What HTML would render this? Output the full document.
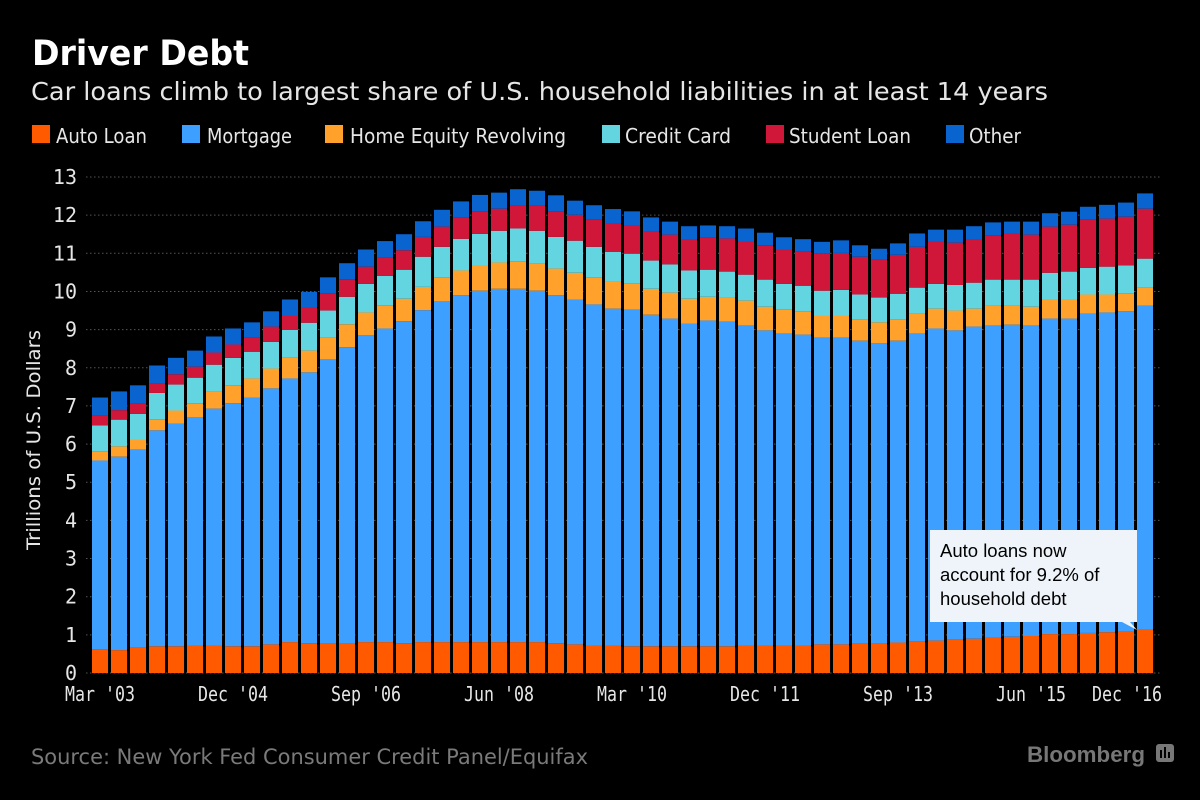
<!DOCTYPE html>
<html><head><meta charset="utf-8"><style>
html,body{margin:0;padding:0;background:#000;}
svg{display:block;}
</style></head><body>
<svg id="chart" width="1200" height="800" viewBox="0 0 1200 800" xmlns="http://www.w3.org/2000/svg" font-family="'DejaVu Sans', 'Liberation Sans', sans-serif">
<rect x="0" y="0" width="1200" height="800" fill="#000"/>
<text x="32" y="65" fill="#fff" font-size="35" font-weight="bold" textLength="217" lengthAdjust="spacingAndGlyphs">Driver Debt</text>
<text x="31" y="100" fill="#e6e6e6" font-size="25" textLength="1017" lengthAdjust="spacingAndGlyphs">Car loans climb to largest share of U.S. household liabilities in at least 14 years</text>
<g id="legend"></g>
<g id="grid"></g>
<g id="yticks"></g>
<text transform="translate(40,440) rotate(-90)" text-anchor="middle" fill="#e6e6e6" font-size="19" textLength="220" lengthAdjust="spacingAndGlyphs">Trillions of U.S. Dollars</text>
<g id="bars"></g>
<g id="xticks"></g>
<g>
<path d="M930,530 H1137 V622 H1130 L1137,630 L1122,622 H930 Z" fill="#eef4fa"/>
<text font-family="'Liberation Sans', sans-serif" font-size="18.5" fill="#000"><tspan x="940" y="557">Auto loans now</tspan><tspan x="940" y="581">account for 9.2% of</tspan><tspan x="940" y="605">household debt</tspan></text>
</g>
<text x="31" y="764" fill="#7a7a7a" font-size="21" textLength="557" lengthAdjust="spacingAndGlyphs">Source: New York Fed Consumer Credit Panel/Equifax</text>
<g>
<text x="1027" y="762" fill="#777" font-family="'Liberation Sans', sans-serif" font-weight="bold" font-size="22" textLength="118" lengthAdjust="spacingAndGlyphs">Bloomberg</text>
<rect x="1156" y="744" width="18" height="18" rx="3" fill="#777"/>
<rect x="1160" y="750" width="2" height="8" fill="#000"/><rect x="1164" y="747" width="2" height="11" fill="#000"/><rect x="1168" y="752" width="2" height="6" fill="#000"/>
</g>
</svg>
<script>
const categories = [];
(function(){const m=['Mar','Jun','Sep','Dec'];for(let y=3;y<=16;y++)for(const q of m)categories.push(q+" '"+String(y).padStart(2,'0'));})();
const autoLoan = [0.62,0.60,0.68,0.70,0.70,0.72,0.72,0.70,0.70,0.75,0.81,0.78,0.77,0.77,0.81,0.81,0.78,0.81,0.81,0.81,
0.81,0.81,0.81,0.81,0.78,0.75,0.72,0.72,0.70,0.70,0.70,0.70,0.70,0.70,0.72,0.72,0.72,0.72,0.75,0.75,
0.77,0.77,0.80,0.82,0.85,0.87,0.90,0.92,0.95,0.97,1.02,1.02,1.05,1.07,1.10,1.13];
const mortgage = [4.95,5.07,5.18,5.66,5.84,5.98,6.21,6.37,6.52,6.71,6.91,7.10,7.45,7.77,8.04,8.22,8.44,8.70,8.93,9.09,
9.21,9.26,9.26,9.21,9.12,9.04,8.94,8.83,8.82,8.69,8.59,8.46,8.54,8.51,8.39,8.26,8.18,8.15,8.04,8.04,
7.94,7.87,7.91,8.08,8.18,8.11,8.18,8.19,8.18,8.14,8.27,8.27,8.37,8.38,8.38,8.50];
const homeEquity = [0.23,0.27,0.26,0.29,0.34,0.37,0.45,0.47,0.50,0.52,0.54,0.57,0.57,0.60,0.60,0.61,0.59,0.61,0.62,0.65,
0.66,0.69,0.72,0.71,0.70,0.70,0.70,0.71,0.68,0.68,0.68,0.65,0.62,0.63,0.65,0.62,0.62,0.60,0.58,0.58,
0.55,0.55,0.55,0.52,0.52,0.52,0.47,0.52,0.50,0.49,0.50,0.50,0.50,0.47,0.46,0.47];
const creditCard = [0.69,0.70,0.67,0.69,0.68,0.67,0.70,0.72,0.70,0.70,0.73,0.73,0.71,0.72,0.75,0.77,0.76,0.79,0.81,0.83,
0.83,0.83,0.86,0.86,0.83,0.84,0.81,0.78,0.79,0.74,0.74,0.74,0.71,0.68,0.68,0.71,0.68,0.68,0.65,0.67,
0.66,0.65,0.68,0.68,0.65,0.67,0.68,0.68,0.68,0.71,0.70,0.73,0.70,0.73,0.74,0.76];
const studentLoan = [0.25,0.25,0.27,0.25,0.27,0.29,0.32,0.35,0.37,0.40,0.38,0.40,0.44,0.46,0.45,0.47,0.51,0.52,0.53,0.55,
0.58,0.58,0.60,0.66,0.66,0.68,0.71,0.74,0.74,0.76,0.78,0.81,0.84,0.87,0.87,0.90,0.90,0.90,0.97,0.97,
0.99,1.00,1.02,1.07,1.11,1.11,1.13,1.15,1.21,1.18,1.21,1.23,1.26,1.26,1.28,1.31];
const other = [0.48,0.49,0.48,0.47,0.43,0.42,0.42,0.42,0.40,0.40,0.42,0.41,0.43,0.42,0.45,0.44,0.42,0.41,0.44,0.43,
0.44,0.42,0.43,0.39,0.43,0.37,0.38,0.38,0.37,0.37,0.34,0.35,0.32,0.32,0.34,0.33,0.32,0.32,0.31,0.33,
0.30,0.28,0.30,0.35,0.31,0.34,0.35,0.35,0.31,0.34,0.35,0.34,0.34,0.36,0.37,0.40];
const yTicks = [0,1,2,3,4,5,6,7,8,9,10,11,12,13];
const xTickLabels = ["Mar '03","Dec '04","Sep '06","Jun '08","Mar '10","Dec '11","Sep '13","Jun '15","Dec '16"];
const seriesNames = ["Auto Loan","Mortgage","Home Equity Revolving","Credit Card","Student Loan","Other"];

const NS="http://www.w3.org/2000/svg";
const colors=["#ff5a00","#3d9fff","#ffa12a","#63d5e1","#d0173a","#0a64cf"];
const series=[autoLoan,mortgage,homeEquity,creditCard,studentLoan,other];
const plotL=92, pitch=19.0, barW=16, y0=673, yTop=177, yMax=13;
function yScale(v){return y0-(v/yMax)*(y0-yTop);}
function xScale(i){return plotL+i*pitch;}
function mk(tag,attrs,parent){const e=document.createElementNS(NS,tag);for(const k in attrs)e.setAttribute(k,attrs[k]);parent.appendChild(e);return e;}

const grid=document.getElementById('grid'), yt=document.getElementById('yticks');
yTicks.forEach(t=>{
  const y=yScale(t);
  const l=mk('line',{x1:86,x2:1160,y1:y,y2:y,stroke:'#555','stroke-width':1,'stroke-dasharray':'1.5,2.5'},grid);
  
  
  const tx=mk('text',{x:77,y:y+7,'text-anchor':'end',fill:'#e6e6e6','font-size':20,'font-family':"'DejaVu Sans Mono', monospace"},yt);
  tx.textContent=t;
  
  
});

const bars=document.getElementById('bars');
categories.forEach((c,i)=>{
  const g=mk('g',{},bars);
  
  
  let cum=0;
  series.forEach((s,k)=>{
    const v=s[i];const yA=yScale(cum+v), yB=yScale(cum);
    const r=mk('rect',{x:xScale(i),y:yA,width:barW,height:Math.max(0,yB-yA),fill:colors[k]},g);
    
    
    cum+=v;
  });
});

const xt=document.getElementById('xticks');
xTickLabels.forEach(lbl=>{
  const i=categories.indexOf(lbl);
  let cx=xScale(i)+barW/2;
  if(i===categories.length-1) cx-=18;
  const t=mk('text',{x:cx,y:701,'text-anchor':'middle',fill:'#e6e6e6','font-size':20,'font-family':"'DejaVu Sans Mono', monospace",textLength:70,lengthAdjust:'spacingAndGlyphs'},xt);
  t.textContent=lbl;
  
  
});

const lg=document.getElementById('legend');
const lgX=[32,182,325,602,766,946], lgTX=[56,207,350,625,789,969], lgW=[91,85,216,106,122,52];
seriesNames.forEach((n,k)=>{
  const g=mk('g',{},lg);
  
  
  mk('rect',{x:lgX[k],y:125,width:18,height:18,fill:colors[k]},g);
  const t=mk('text',{x:lgTX[k],y:143,fill:'#e6e6e6','font-size':20,textLength:lgW[k],lengthAdjust:'spacingAndGlyphs'},g);
  t.textContent=n;
});
</script>
</body></html>
